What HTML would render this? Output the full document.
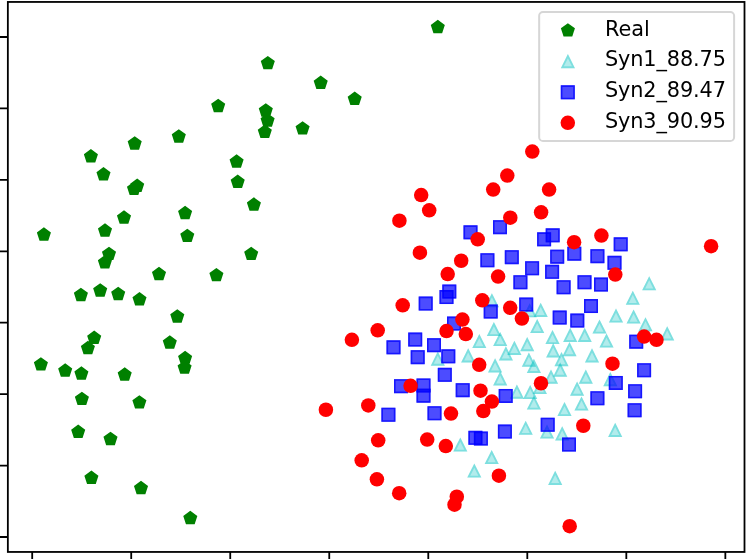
<!DOCTYPE html>
<html><head><meta charset="utf-8"><title>Scatter</title>
<style>html,body{margin:0;padding:0;background:#fff;overflow:hidden}svg{display:block}</style></head>
<body><svg width="747" height="560" viewBox="0 0 747 560">
<rect width="747" height="560" fill="#fff"/>
<g fill="#008000">
<path d="M437.8 19.8L444.84 24.91L442.15 33.19L433.45 33.19L430.76 24.91ZM267.8 55.95L274.84 61.06L272.15 69.34L263.45 69.34L260.76 61.06ZM320.7 75.55L327.74 80.66L325.05 88.94L316.35 88.94L313.66 80.66ZM354.7 91.55L361.74 96.66L359.05 104.94L350.35 104.94L347.66 96.66ZM218.2 98.75L225.24 103.86L222.55 112.14L213.85 112.14L211.16 103.86ZM265.8 103.25L272.84 108.36L270.15 116.64L261.45 116.64L258.76 108.36ZM267.6 113.25L274.64 118.36L271.95 126.64L263.25 126.64L260.56 118.36ZM302.6 121.15L309.64 126.26L306.95 134.54L298.25 134.54L295.56 126.26ZM264.8 124.55L271.84 129.66L269.15 137.94L260.45 137.94L257.76 129.66ZM178.8 129.25L185.84 134.36L183.15 142.64L174.45 142.64L171.76 134.36ZM134.7 136.25L141.74 141.36L139.05 149.64L130.35 149.64L127.66 141.36ZM90.9 149.05L97.94 154.16L95.25 162.44L86.55 162.44L83.86 154.16ZM236.6 154.35L243.64 159.46L240.95 167.74L232.25 167.74L229.56 159.46ZM103.5 167.05L110.54 172.16L107.85 180.44L99.15 180.44L96.46 172.16ZM237.7 174.55L244.74 179.66L242.05 187.94L233.35 187.94L230.66 179.66ZM137.2 178.55L144.24 183.66L141.55 191.94L132.85 191.94L130.16 183.66ZM134 181.55L141.04 186.66L138.35 194.94L129.65 194.94L126.96 186.66ZM253.9 197.35L260.94 202.46L258.25 210.74L249.55 210.74L246.86 202.46ZM185.1 205.85L192.14 210.96L189.45 219.24L180.75 219.24L178.06 210.96ZM124 210.35L131.04 215.46L128.35 223.74L119.65 223.74L116.96 215.46ZM105 223.35L112.04 228.46L109.35 236.74L100.65 236.74L97.96 228.46ZM43.9 227.35L50.94 232.46L48.25 240.74L39.55 240.74L36.86 232.46ZM187.3 228.65L194.34 233.76L191.65 242.04L182.95 242.04L180.26 233.76ZM251.2 246.65L258.24 251.76L255.55 260.04L246.85 260.04L244.16 251.76ZM109 246.65L116.04 251.76L113.35 260.04L104.65 260.04L101.96 251.76ZM104.9 255.05L111.94 260.16L109.25 268.44L100.55 268.44L97.86 260.16ZM159 266.85L166.04 271.96L163.35 280.24L154.65 280.24L151.96 271.96ZM216.4 267.95L223.44 273.06L220.75 281.34L212.05 281.34L209.36 273.06ZM80.9 287.75L87.94 292.86L85.25 301.14L76.55 301.14L73.86 292.86ZM100.2 283.25L107.24 288.36L104.55 296.64L95.85 296.64L93.16 288.36ZM118.2 286.75L125.24 291.86L122.55 300.14L113.85 300.14L111.16 291.86ZM139.5 292.05L146.54 297.16L143.85 305.44L135.15 305.44L132.46 297.16ZM177.3 309.25L184.34 314.36L181.65 322.64L172.95 322.64L170.26 314.36ZM94.2 330.55L101.24 335.66L98.55 343.94L89.85 343.94L87.16 335.66ZM87.9 340.85L94.94 345.96L92.25 354.24L83.55 354.24L80.86 345.96ZM169.8 335.35L176.84 340.46L174.15 348.74L165.45 348.74L162.76 340.46ZM185.1 350.85L192.14 355.96L189.45 364.24L180.75 364.24L178.06 355.96ZM184.6 360.35L191.64 365.46L188.95 373.74L180.25 373.74L177.56 365.46ZM40.9 357.15L47.94 362.26L45.25 370.54L36.55 370.54L33.86 362.26ZM65.2 363.35L72.24 368.46L69.55 376.74L60.85 376.74L58.16 368.46ZM81.4 366.35L88.44 371.46L85.75 379.74L77.05 379.74L74.36 371.46ZM124.7 367.35L131.74 372.46L129.05 380.74L120.35 380.74L117.66 372.46ZM81.9 391.65L88.94 396.76L86.25 405.04L77.55 405.04L74.86 396.76ZM139.4 395.15L146.44 400.26L143.75 408.54L135.05 408.54L132.36 400.26ZM78.2 424.55L85.24 429.66L82.55 437.94L73.85 437.94L71.16 429.66ZM110.5 431.75L117.54 436.86L114.85 445.14L106.15 445.14L103.46 436.86ZM91.4 470.55L98.44 475.66L95.75 483.94L87.05 483.94L84.36 475.66ZM141 480.85L148.04 485.96L145.35 494.24L136.65 494.24L133.96 485.96ZM190.3 510.85L197.34 515.96L194.65 524.24L185.95 524.24L183.26 515.96Z"/>
</g>
<g fill="#00bfbf" fill-opacity=".3" fill-rule="evenodd">
<path d="M491.9 293.2L498.95 307.3L484.85 307.3Z"/><path d="M491.9 293.2L498.95 307.3L484.85 307.3ZM491.9 297.34L487.84 305.45L495.96 305.45Z"/>
<path d="M632.8 290.7L639.85 304.8L625.75 304.8Z"/><path d="M632.8 290.7L639.85 304.8L625.75 304.8ZM632.8 294.84L628.74 302.95L636.86 302.95Z"/>
<path d="M540.7 302.8L547.75 316.9L533.65 316.9Z"/><path d="M540.7 302.8L547.75 316.9L533.65 316.9ZM540.7 306.94L536.64 315.05L544.76 315.05Z"/>
<path d="M529.7 303.2L536.75 317.3L522.65 317.3Z"/><path d="M529.7 303.2L536.75 317.3L522.65 317.3ZM529.7 307.34L525.64 315.45L533.76 315.45Z"/>
<path d="M616 308.5L623.05 322.6L608.95 322.6Z"/><path d="M616 308.5L623.05 322.6L608.95 322.6ZM616 312.64L611.94 320.75L620.06 320.75Z"/>
<path d="M633.6 309.5L640.65 323.6L626.55 323.6Z"/><path d="M633.6 309.5L640.65 323.6L626.55 323.6ZM633.6 313.64L629.54 321.75L637.66 321.75Z"/>
<path d="M645.5 317.2L652.55 331.3L638.45 331.3Z"/><path d="M645.5 317.2L652.55 331.3L638.45 331.3ZM645.5 321.34L641.44 329.45L649.56 329.45Z"/>
<path d="M537.2 319L544.25 333.1L530.15 333.1Z"/><path d="M537.2 319L544.25 333.1L530.15 333.1ZM537.2 323.14L533.14 331.25L541.26 331.25Z"/>
<path d="M599.5 319.5L606.55 333.6L592.45 333.6Z"/><path d="M599.5 319.5L606.55 333.6L592.45 333.6ZM599.5 323.64L595.44 331.75L603.56 331.75Z"/>
<path d="M493.9 322L500.95 336.1L486.85 336.1Z"/><path d="M493.9 322L500.95 336.1L486.85 336.1ZM493.9 326.14L489.84 334.25L497.96 334.25Z"/>
<path d="M570.2 327.8L577.25 341.9L563.15 341.9Z"/><path d="M570.2 327.8L577.25 341.9L563.15 341.9ZM570.2 331.94L566.14 340.05L574.26 340.05Z"/>
<path d="M584.7 327.8L591.75 341.9L577.65 341.9Z"/><path d="M584.7 327.8L591.75 341.9L577.65 341.9ZM584.7 331.94L580.64 340.05L588.76 340.05Z"/>
<path d="M552.5 330L559.55 344.1L545.45 344.1Z"/><path d="M552.5 330L559.55 344.1L545.45 344.1ZM552.5 334.14L548.44 342.25L556.56 342.25Z"/>
<path d="M500.2 332L507.25 346.1L493.15 346.1Z"/><path d="M500.2 332L507.25 346.1L493.15 346.1ZM500.2 336.14L496.14 344.25L504.26 344.25Z"/>
<path d="M479.3 334L486.35 348.1L472.25 348.1Z"/><path d="M479.3 334L486.35 348.1L472.25 348.1ZM479.3 338.14L475.24 346.25L483.36 346.25Z"/>
<path d="M606.5 333.5L613.55 347.6L599.45 347.6Z"/><path d="M606.5 333.5L613.55 347.6L599.45 347.6ZM606.5 337.64L602.44 345.75L610.56 345.75Z"/>
<path d="M527.2 337.1L534.25 351.2L520.15 351.2Z"/><path d="M527.2 337.1L534.25 351.2L520.15 351.2ZM527.2 341.24L523.14 349.35L531.26 349.35Z"/>
<path d="M514.4 340.8L521.45 354.9L507.35 354.9Z"/><path d="M514.4 340.8L521.45 354.9L507.35 354.9ZM514.4 344.94L510.34 353.05L518.46 353.05Z"/>
<path d="M569.5 342.1L576.55 356.2L562.45 356.2Z"/><path d="M569.5 342.1L576.55 356.2L562.45 356.2ZM569.5 346.24L565.44 354.35L573.56 354.35Z"/>
<path d="M553.2 343.3L560.25 357.4L546.15 357.4Z"/><path d="M553.2 343.3L560.25 357.4L546.15 357.4ZM553.2 347.44L549.14 355.55L557.26 355.55Z"/>
<path d="M505.9 346.3L512.95 360.4L498.85 360.4Z"/><path d="M505.9 346.3L512.95 360.4L498.85 360.4ZM505.9 350.44L501.84 358.55L509.96 358.55Z"/>
<path d="M468.2 348.3L475.25 362.4L461.15 362.4Z"/><path d="M468.2 348.3L475.25 362.4L461.15 362.4ZM468.2 352.44L464.14 360.55L472.26 360.55Z"/>
<path d="M592 348.3L599.05 362.4L584.95 362.4Z"/><path d="M592 348.3L599.05 362.4L584.95 362.4ZM592 352.44L587.94 360.55L596.06 360.55Z"/>
<path d="M561.5 352.1L568.55 366.2L554.45 366.2Z"/><path d="M561.5 352.1L568.55 366.2L554.45 366.2ZM561.5 356.24L557.44 364.35L565.56 364.35Z"/>
<path d="M528.9 352.6L535.95 366.7L521.85 366.7Z"/><path d="M528.9 352.6L535.95 366.7L521.85 366.7ZM528.9 356.74L524.84 364.85L532.96 364.85Z"/>
<path d="M495.1 358.3L502.15 372.4L488.05 372.4Z"/><path d="M495.1 358.3L502.15 372.4L488.05 372.4ZM495.1 362.44L491.04 370.55L499.16 370.55Z"/>
<path d="M533.9 358.8L540.95 372.9L526.85 372.9Z"/><path d="M533.9 358.8L540.95 372.9L526.85 372.9ZM533.9 362.94L529.84 371.05L537.96 371.05Z"/>
<path d="M560.2 362.6L567.25 376.7L553.15 376.7Z"/><path d="M560.2 362.6L567.25 376.7L553.15 376.7ZM560.2 366.74L556.14 374.85L564.26 374.85Z"/>
<path d="M551 369.6L558.05 383.7L543.95 383.7Z"/><path d="M551 369.6L558.05 383.7L543.95 383.7ZM551 373.74L546.94 381.85L555.06 381.85Z"/>
<path d="M585.8 369.6L592.85 383.7L578.75 383.7Z"/><path d="M585.8 369.6L592.85 383.7L578.75 383.7ZM585.8 373.74L581.74 381.85L589.86 381.85Z"/>
<path d="M500.2 371.3L507.25 385.4L493.15 385.4Z"/><path d="M500.2 371.3L507.25 385.4L493.15 385.4ZM500.2 375.44L496.14 383.55L504.26 383.55Z"/>
<path d="M610.3 372.1L617.35 386.2L603.25 386.2Z"/><path d="M610.3 372.1L617.35 386.2L603.25 386.2ZM610.3 376.24L606.24 384.35L614.36 384.35Z"/>
<path d="M577.1 381.6L584.15 395.7L570.05 395.7Z"/><path d="M577.1 381.6L584.15 395.7L570.05 395.7ZM577.1 385.74L573.04 393.85L581.16 393.85Z"/>
<path d="M516.9 384.6L523.95 398.7L509.85 398.7Z"/><path d="M516.9 384.6L523.95 398.7L509.85 398.7ZM516.9 388.74L512.84 396.85L520.96 396.85Z"/>
<path d="M530.2 384.9L537.25 399L523.15 399Z"/><path d="M530.2 384.9L537.25 399L523.15 399ZM530.2 389.04L526.14 397.15L534.26 397.15Z"/>
<path d="M539.9 380L546.95 394.1L532.85 394.1Z"/><path d="M539.9 380L546.95 394.1L532.85 394.1ZM539.9 384.14L535.84 392.25L543.96 392.25Z"/>
<path d="M581.5 396.4L588.55 410.5L574.45 410.5Z"/><path d="M581.5 396.4L588.55 410.5L574.45 410.5ZM581.5 400.54L577.44 408.65L585.56 408.65Z"/>
<path d="M533.9 395.4L540.95 409.5L526.85 409.5Z"/><path d="M533.9 395.4L540.95 409.5L526.85 409.5ZM533.9 399.54L529.84 407.65L537.96 407.65Z"/>
<path d="M437.8 351.6L444.85 365.7L430.75 365.7Z"/><path d="M437.8 351.6L444.85 365.7L430.75 365.7ZM437.8 355.74L433.74 363.85L441.86 363.85Z"/>
<path d="M649.2 276.2L656.25 290.3L642.15 290.3Z"/><path d="M649.2 276.2L656.25 290.3L642.15 290.3ZM649.2 280.34L645.14 288.45L653.26 288.45Z"/>
<path d="M667.2 326.3L674.25 340.4L660.15 340.4Z"/><path d="M667.2 326.3L674.25 340.4L660.15 340.4ZM667.2 330.44L663.14 338.55L671.26 338.55Z"/>
<path d="M460.3 437.5L467.35 451.6L453.25 451.6Z"/><path d="M460.3 437.5L467.35 451.6L453.25 451.6ZM460.3 441.64L456.24 449.75L464.36 449.75Z"/>
<path d="M491.7 450L498.75 464.1L484.65 464.1Z"/><path d="M491.7 450L498.75 464.1L484.65 464.1ZM491.7 454.14L487.64 462.25L495.76 462.25Z"/>
<path d="M474.3 463.5L481.35 477.6L467.25 477.6Z"/><path d="M474.3 463.5L481.35 477.6L467.25 477.6ZM474.3 467.64L470.24 475.75L478.36 475.75Z"/>
<path d="M564.5 402L571.55 416.1L557.45 416.1Z"/><path d="M564.5 402L571.55 416.1L557.45 416.1ZM564.5 406.14L560.44 414.25L568.56 414.25Z"/>
<path d="M525.7 420.7L532.75 434.8L518.65 434.8Z"/><path d="M525.7 420.7L532.75 434.8L518.65 434.8ZM525.7 424.84L521.64 432.95L529.76 432.95Z"/>
<path d="M547 424.5L554.05 438.6L539.95 438.6Z"/><path d="M547 424.5L554.05 438.6L539.95 438.6ZM547 428.64L542.94 436.75L551.06 436.75Z"/>
<path d="M562.2 426.3L569.25 440.4L555.15 440.4Z"/><path d="M562.2 426.3L569.25 440.4L555.15 440.4ZM562.2 430.44L558.14 438.55L566.26 438.55Z"/>
<path d="M615.2 422.8L622.25 436.9L608.15 436.9Z"/><path d="M615.2 422.8L622.25 436.9L608.15 436.9ZM615.2 426.94L611.14 435.05L619.26 435.05Z"/>
<path d="M555.2 470.8L562.25 484.9L548.15 484.9Z"/><path d="M555.2 470.8L562.25 484.9L548.15 484.9ZM555.2 474.94L551.14 483.05L559.26 483.05Z"/>
</g>
<g fill="#0000ff" fill-opacity=".7" fill-rule="evenodd">
<path d="M463.5 225.35h14v14h-14Z"/><path d="M463.5 225.35h14v14h-14ZM465.1 226.95v10.8h10.8v-10.8Z"/>
<path d="M493 220.15h14v14h-14Z"/><path d="M493 220.15h14v14h-14ZM494.6 221.75v10.8h10.8v-10.8Z"/>
<path d="M537.1 232.35h14v14h-14Z"/><path d="M537.1 232.35h14v14h-14ZM538.7 233.95v10.8h10.8v-10.8Z"/>
<path d="M545.7 228.35h14v14h-14Z"/><path d="M545.7 228.35h14v14h-14ZM547.3 229.95v10.8h10.8v-10.8Z"/>
<path d="M480.4 253.25h14v14h-14Z"/><path d="M480.4 253.25h14v14h-14ZM482 254.85v10.8h10.8v-10.8Z"/>
<path d="M504.8 250.15h14v14h-14Z"/><path d="M504.8 250.15h14v14h-14ZM506.4 251.75v10.8h10.8v-10.8Z"/>
<path d="M550.2 249.65h14v14h-14Z"/><path d="M550.2 249.65h14v14h-14ZM551.8 251.25v10.8h10.8v-10.8Z"/>
<path d="M525.1 261.25h14v14h-14Z"/><path d="M525.1 261.25h14v14h-14ZM526.7 262.85v10.8h10.8v-10.8Z"/>
<path d="M545.1 264.85h14v14h-14Z"/><path d="M545.1 264.85h14v14h-14ZM546.7 266.45v10.8h10.8v-10.8Z"/>
<path d="M613.7 237.35h14v14h-14Z"/><path d="M613.7 237.35h14v14h-14ZM615.3 238.95v10.8h10.8v-10.8Z"/>
<path d="M567.3 246.65h14v14h-14Z"/><path d="M567.3 246.65h14v14h-14ZM568.9 248.25v10.8h10.8v-10.8Z"/>
<path d="M590.4 249.15h14v14h-14Z"/><path d="M590.4 249.15h14v14h-14ZM592 250.75v10.8h10.8v-10.8Z"/>
<path d="M607.5 255.85h14v14h-14Z"/><path d="M607.5 255.85h14v14h-14ZM609.1 257.45v10.8h10.8v-10.8Z"/>
<path d="M442.3 284.55h14v14h-14Z"/><path d="M442.3 284.55h14v14h-14ZM443.9 286.15v10.8h10.8v-10.8Z"/>
<path d="M439.5 290.05h14v14h-14Z"/><path d="M439.5 290.05h14v14h-14ZM441.1 291.65v10.8h10.8v-10.8Z"/>
<path d="M418.7 296.55h14v14h-14Z"/><path d="M418.7 296.55h14v14h-14ZM420.3 298.15v10.8h10.8v-10.8Z"/>
<path d="M483.7 304.55h14v14h-14Z"/><path d="M483.7 304.55h14v14h-14ZM485.3 306.15v10.8h10.8v-10.8Z"/>
<path d="M447 316.55h14v14h-14Z"/><path d="M447 316.55h14v14h-14ZM448.6 318.15v10.8h10.8v-10.8Z"/>
<path d="M408.2 332.55h14v14h-14Z"/><path d="M408.2 332.55h14v14h-14ZM409.8 334.15v10.8h10.8v-10.8Z"/>
<path d="M427 338.15h14v14h-14Z"/><path d="M427 338.15h14v14h-14ZM428.6 339.75v10.8h10.8v-10.8Z"/>
<path d="M386.5 340.35h14v14h-14Z"/><path d="M386.5 340.35h14v14h-14ZM388.1 341.95v10.8h10.8v-10.8Z"/>
<path d="M410.7 350.15h14v14h-14Z"/><path d="M410.7 350.15h14v14h-14ZM412.3 351.75v10.8h10.8v-10.8Z"/>
<path d="M441.3 349.35h14v14h-14Z"/><path d="M441.3 349.35h14v14h-14ZM442.9 350.95v10.8h10.8v-10.8Z"/>
<path d="M437.8 367.85h14v14h-14Z"/><path d="M437.8 367.85h14v14h-14ZM439.4 369.45v10.8h10.8v-10.8Z"/>
<path d="M394 379.15h14v14h-14Z"/><path d="M394 379.15h14v14h-14ZM395.6 380.75v10.8h10.8v-10.8Z"/>
<path d="M416.5 378.45h14v14h-14Z"/><path d="M416.5 378.45h14v14h-14ZM418.1 380.05v10.8h10.8v-10.8Z"/>
<path d="M416.5 388.65h14v14h-14Z"/><path d="M416.5 388.65h14v14h-14ZM418.1 390.25v10.8h10.8v-10.8Z"/>
<path d="M455.7 383.15h14v14h-14Z"/><path d="M455.7 383.15h14v14h-14ZM457.3 384.75v10.8h10.8v-10.8Z"/>
<path d="M513.4 275.25h14v14h-14Z"/><path d="M513.4 275.25h14v14h-14ZM515 276.85v10.8h10.8v-10.8Z"/>
<path d="M556.6 280.25h14v14h-14Z"/><path d="M556.6 280.25h14v14h-14ZM558.2 281.85v10.8h10.8v-10.8Z"/>
<path d="M577.5 275.25h14v14h-14Z"/><path d="M577.5 275.25h14v14h-14ZM579.1 276.85v10.8h10.8v-10.8Z"/>
<path d="M594 277.55h14v14h-14Z"/><path d="M594 277.55h14v14h-14ZM595.6 279.15v10.8h10.8v-10.8Z"/>
<path d="M519.2 297.55h14v14h-14Z"/><path d="M519.2 297.55h14v14h-14ZM520.8 299.15v10.8h10.8v-10.8Z"/>
<path d="M584 299.05h14v14h-14Z"/><path d="M584 299.05h14v14h-14ZM585.6 300.65v10.8h10.8v-10.8Z"/>
<path d="M552.7 310.55h14v14h-14Z"/><path d="M552.7 310.55h14v14h-14ZM554.3 312.15v10.8h10.8v-10.8Z"/>
<path d="M570.3 313.55h14v14h-14Z"/><path d="M570.3 313.55h14v14h-14ZM571.9 315.15v10.8h10.8v-10.8Z"/>
<path d="M629.2 334.65h14v14h-14Z"/><path d="M629.2 334.65h14v14h-14ZM630.8 336.25v10.8h10.8v-10.8Z"/>
<path d="M637.1 363.25h14v14h-14Z"/><path d="M637.1 363.25h14v14h-14ZM638.7 364.85v10.8h10.8v-10.8Z"/>
<path d="M608.8 375.95h14v14h-14Z"/><path d="M608.8 375.95h14v14h-14ZM610.4 377.55v10.8h10.8v-10.8Z"/>
<path d="M628.1 384.25h14v14h-14Z"/><path d="M628.1 384.25h14v14h-14ZM629.7 385.85v10.8h10.8v-10.8Z"/>
<path d="M498.7 388.95h14v14h-14Z"/><path d="M498.7 388.95h14v14h-14ZM500.3 390.55v10.8h10.8v-10.8Z"/>
<path d="M590.4 391.25h14v14h-14Z"/><path d="M590.4 391.25h14v14h-14ZM592 392.85v10.8h10.8v-10.8Z"/>
<path d="M381.4 407.75h14v14h-14Z"/><path d="M381.4 407.75h14v14h-14ZM383 409.35v10.8h10.8v-10.8Z"/>
<path d="M427.5 406.25h14v14h-14Z"/><path d="M427.5 406.25h14v14h-14ZM429.1 407.85v10.8h10.8v-10.8Z"/>
<path d="M468.4 430.85h14v14h-14Z"/><path d="M468.4 430.85h14v14h-14ZM470 432.45v10.8h10.8v-10.8Z"/>
<path d="M473.9 431.55h14v14h-14Z"/><path d="M473.9 431.55h14v14h-14ZM475.5 433.15v10.8h10.8v-10.8Z"/>
<path d="M627.6 403.25h14v14h-14Z"/><path d="M627.6 403.25h14v14h-14ZM629.2 404.85v10.8h10.8v-10.8Z"/>
<path d="M540.7 417.75h14v14h-14Z"/><path d="M540.7 417.75h14v14h-14ZM542.3 419.35v10.8h10.8v-10.8Z"/>
<path d="M497.9 424.55h14v14h-14Z"/><path d="M497.9 424.55h14v14h-14ZM499.5 426.15v10.8h10.8v-10.8Z"/>
<path d="M562 437.55h14v14h-14Z"/><path d="M562 437.55h14v14h-14ZM563.6 439.15v10.8h10.8v-10.8Z"/>
</g>
<g fill="#ff0000">
<circle cx="532.3" cy="151.55" r="7.25"/>
<circle cx="507.3" cy="175.55" r="7.25"/>
<circle cx="493.2" cy="189.55" r="7.25"/>
<circle cx="549.1" cy="189.55" r="7.25"/>
<circle cx="421.2" cy="195.05" r="7.25"/>
<circle cx="429.2" cy="210.35" r="7.25"/>
<circle cx="541.1" cy="212.35" r="7.25"/>
<circle cx="510.3" cy="217.65" r="7.25"/>
<circle cx="399.4" cy="220.65" r="7.25"/>
<circle cx="477.7" cy="239.35" r="7.25"/>
<circle cx="419.9" cy="252.65" r="7.25"/>
<circle cx="461.2" cy="260.75" r="7.25"/>
<circle cx="447.7" cy="274.05" r="7.25"/>
<circle cx="498.1" cy="276.55" r="7.25"/>
<circle cx="574.1" cy="242.15" r="7.25"/>
<circle cx="601.4" cy="235.55" r="7.25"/>
<circle cx="711.1" cy="246.15" r="7.25"/>
<circle cx="615.3" cy="274.55" r="7.25"/>
<circle cx="402.7" cy="305.35" r="7.25"/>
<circle cx="482.3" cy="300.35" r="7.25"/>
<circle cx="462.4" cy="319.55" r="7.25"/>
<circle cx="446.5" cy="331.05" r="7.25"/>
<circle cx="465.8" cy="334.05" r="7.25"/>
<circle cx="377.7" cy="330.35" r="7.25"/>
<circle cx="351.9" cy="339.85" r="7.25"/>
<circle cx="479.2" cy="364.85" r="7.25"/>
<circle cx="410.6" cy="385.85" r="7.25"/>
<circle cx="480.5" cy="390.65" r="7.25"/>
<circle cx="368.3" cy="405.45" r="7.25"/>
<circle cx="491.9" cy="401.55" r="7.25"/>
<circle cx="510.2" cy="307.85" r="7.25"/>
<circle cx="521.9" cy="318.55" r="7.25"/>
<circle cx="644.1" cy="336.55" r="7.25"/>
<circle cx="612.5" cy="363.65" r="7.25"/>
<circle cx="541" cy="383.25" r="7.25"/>
<circle cx="656.5" cy="339.85" r="7.25"/>
<circle cx="325.9" cy="409.75" r="7.25"/>
<circle cx="483.3" cy="411.05" r="7.25"/>
<circle cx="451" cy="413.55" r="7.25"/>
<circle cx="378.2" cy="440.35" r="7.25"/>
<circle cx="427.2" cy="439.55" r="7.25"/>
<circle cx="445.8" cy="446.05" r="7.25"/>
<circle cx="361.7" cy="460.35" r="7.25"/>
<circle cx="376.9" cy="479.35" r="7.25"/>
<circle cx="399.2" cy="493.15" r="7.25"/>
<circle cx="456.8" cy="496.65" r="7.25"/>
<circle cx="454.5" cy="504.65" r="7.25"/>
<circle cx="498.9" cy="475.65" r="7.25"/>
<circle cx="583.3" cy="425.75" r="7.25"/>
<circle cx="569.7" cy="526.15" r="7.25"/>
</g>
<g stroke="#000" stroke-width="1.8" fill="none">
<path d="M32.2 551.95v7M131.22 551.95v7M230.24 551.95v7M329.26 551.95v7M428.28 551.95v7M527.3 551.95v7M626.32 551.95v7M725.34 551.95v7M7.85 37h-8M7.85 108.43h-8M7.85 179.86h-8M7.85 251.29h-8M7.85 322.72h-8M7.85 394.15h-8M7.85 465.58h-8M7.85 537.01h-8"/>
<rect x="7.85" y="1.95" width="736.65" height="550" stroke-linejoin="miter"/>
</g>
<rect x="539.15" y="12.05" width="194.95" height="128.95" rx="3.8" fill="#fff" fill-opacity=".8" stroke="#ccc" stroke-opacity=".8" stroke-width="2"/>
<path fill="#008000" d="M567.9 23.2L574.94 28.31L572.25 36.59L563.55 36.59L560.86 28.31Z"/>
<g fill="#00bfbf" fill-opacity=".3" fill-rule="evenodd"><path d="M567.9 54.05L574.95 68.15L560.85 68.15Z"/><path d="M567.9 54.05L574.95 68.15L560.85 68.15ZM567.9 58.19L563.84 66.3L571.96 66.3Z"/></g>
<g fill="#0000ff" fill-opacity=".7" fill-rule="evenodd"><path d="M560.8 85.3h14v14h-14Z"/><path d="M560.8 85.3h14v14h-14ZM562.4 86.9v10.8h10.8v-10.8Z"/></g>
<circle cx="567.8" cy="122.85" r="7.25" fill="#f00"/>
<g font-family="'DejaVu Sans', 'Liberation Sans', sans-serif" font-size="20.83" fill="#000">
<text x="604.9" y="35.7">Real</text>
<text x="604.9" y="66.3" textLength="121.1">Syn1_88.75</text>
<text x="604.9" y="97.1" textLength="121.1">Syn2_89.47</text>
<text x="604.9" y="127.9" textLength="121.1">Syn3_90.95</text>
</g>
</svg></body></html>
